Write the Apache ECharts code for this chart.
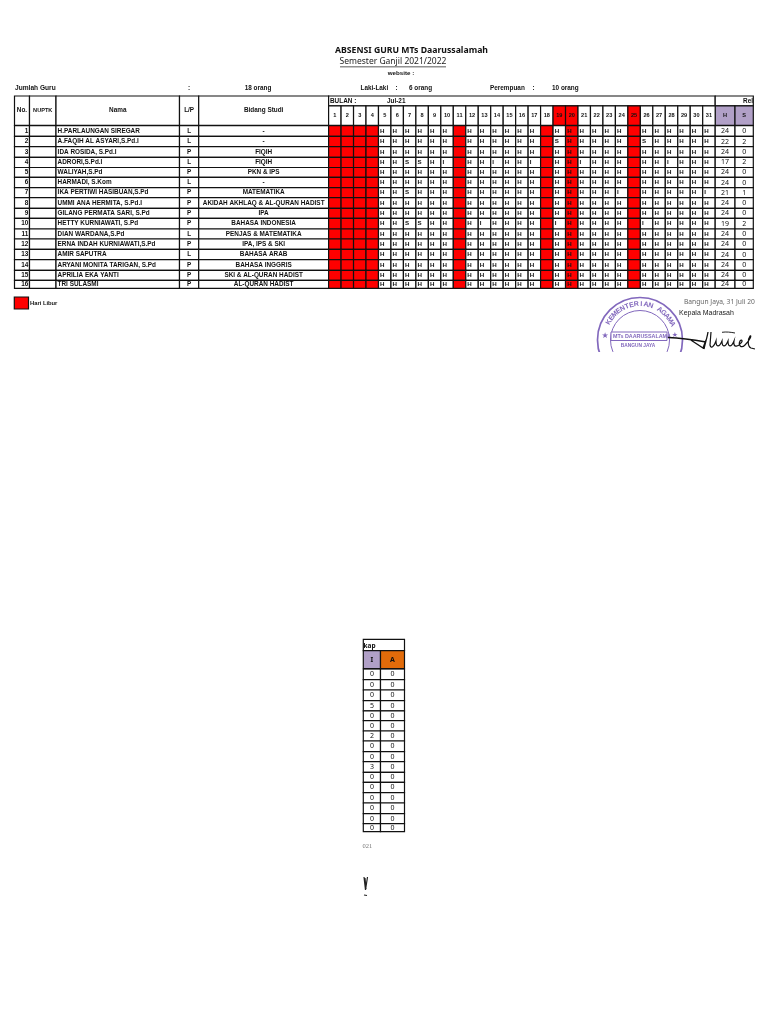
<!DOCTYPE html>
<html>
<head>
  <meta charset="UTF-8">
  <title>Absensi Guru</title>
  <script src="https://cdn.jsdelivr.net/npm/echarts@6/dist/echarts.min.js"></script>
  <style type="text/css">
  html, body { margin: 0; padding: 0; background: #ffffff; }
  #sheet { width: 768px; height: 1024px; }
  </style>
</head>
<body>
  <div id="sheet"></div>

  <script>
    // table values
    var nomor = [1, 2, 3, 4, 5, 6, 7, 8, 9, 10, 11, 12, 13, 14, 15, 16]
    var nama = ['H.PARLAUNGAN SIREGAR', 'A.FAQIH AL ASYARI,S.Pd.I', 'IDA ROSIDA, S.Pd.I', 'ADRORI,S.Pd.I',
      'WALIYAH,S.Pd', 'HARMADI, S.Kom', 'IKA PERTIWI HASIBUAN,S.Pd', 'UMMI ANA HERMITA, S.Pd.I',
      'GILANG PERMATA SARI, S.Pd', 'HETTY KURNIAWATI, S.Pd', 'DIAN WARDANA,S.Pd', 'ERNA INDAH KURNIAWATI,S.Pd',
      'AMIR SAPUTRA', 'ARYANI MONITA TARIGAN, S.Pd', 'APRILIA EKA YANTI', 'TRI SULASMI']
    var jenisKelamin = ['L', 'L', 'P', 'L', 'P', 'L', 'P', 'P', 'P', 'P', 'L', 'P', 'L', 'P', 'P', 'P']
    var bidangStudi = ['-', '-', 'FIQIH', 'FIQIH', 'PKN & IPS', '-', 'MATEMATIKA', 'AKIDAH AKHLAQ & AL-QURAN HADIST',
      'IPA', 'BAHASA INDONESIA', 'PENJAS & MATEMATIKA', 'IPA, IPS & SKI', 'BAHASA ARAB', 'BAHASA INGGRIS',
      'SKI & AL-QURAN HADIST', 'AL-QURAN HADIST']
    // one char per day of Jul-21, space = nothing written
    var absensi = [
      '    HHHHHH HHHHHH HHHHHH HHHHHH',
      '    HHHHHH HHHHHH SHHHHH SHHHHH',
      '    HHHHHH HHHHHH HHHHHH HHHHHH',
      '    HHSSHI HHIHHI HHIHHH HHIHHH',
      '    HHHHHH HHHHHH HHHHHH HHHHHH',
      '    HHHHHH HHHHHH HHHHHH HHHHHH',
      '    HHSHHH HHHHHH HHHHHI HHHHHI',
      '    HHHHHH HHHHHH HHHHHH HHHHHH',
      '    HHHHHH HHHHHH HHHHHH HHHHHH',
      '    HHSSHH HIHHHH IHHHHH IHHHHH',
      '    HHHHHH HHHHHH HHHHHH HHHHHH',
      '    HHHHHH HHHHHH HHHHHH HHHHHH',
      '    HHHHHH HHHHHH HHHHHH HHHHHH',
      '    HHHHHH HHHHHH HHHHHH HHHHHH',
      '    HHHHHH HHHHHH HHHHHH HHHHHH',
      '    HHHHHH HHHHHH HHHHHH HHHHHH'
    ]
    var rekapH = [24, 22, 24, 17, 24, 24, 21, 24, 24, 19, 24, 24, 24, 24, 24, 24]
    var rekapS = [0, 2, 0, 2, 0, 0, 1, 0, 0, 2, 0, 0, 0, 0, 0, 0]
    var rekapI = [0, 0, 0, 5, 0, 0, 2, 0, 0, 3, 0, 0, 0, 0, 0, 0]
    var rekapA = [0, 0, 0, 0, 0, 0, 0, 0, 0, 0, 0, 0, 0, 0, 0, 0]
    var hariLibur = [1, 2, 3, 4, 11, 18, 20, 25]
    var headerMerah = [19, 20, 25]

    // layout of the sheet, in page units
    var kolomKiri = [14.5, 29.5, 56, 179.5, 198.7, 328.6]
    var kolomHari = []
    for (var d = 0; d <= 31; d++) kolomHari.push(328.6 + d * 12.47)
    var kolomRekap = [715.2, 735, 753.3]
    var kolomHal2 = [363.3, 380.5, 404.5]
    var barisAtas = [96, 105.8, 125.3]
    var baris = [125.7, 136.4, 146.7, 157.3, 167.5, 177.3, 187.7, 197.7, 208.3, 218.3, 229, 239, 249.3, 259.7, 270.3, 280.3, 288.3]
    var geser = 543.3 // page 2 table sits lower by this much

    var merah = '#ff0000', ungu = '#b1a0c7', oranye = '#e26b0a', garis = '#111111'
    var fontKecil = 'bold 6.4px "Liberation Sans"'
    var sel = []
    var teks = []

    function addSel(x0, x1, y0, y1, label, opt) {
      sel.push(Object.assign({x0: x0, x1: x1, y0: y0, y1: y1, label: label}, opt || {}))
    }
    function addTeks(x, y, label, font, align, color) {
      teks.push({x: x, y: y, label: label, font: font, align: align || 'left', color: color || '#111'})
    }

    // left header
    var judulKiri = ['No.', 'NUPTK', 'Nama', 'L/P', 'Bidang Studi']
    judulKiri.forEach(function (t, i) {
      addSel(kolomKiri[i], kolomKiri[i + 1], barisAtas[0], barisAtas[2], t, {font: i == 1 ? 'bold 5.6px "Liberation Sans"' : fontKecil})
    })
    // month row
    addSel(kolomHari[0], kolomRekap[0], barisAtas[0], barisAtas[1], '', {})
    addTeks(330, 101, 'BULAN :', fontKecil)
    addTeks(387, 101.5, 'Jul-21', fontKecil)
    // recap header
    addSel(kolomRekap[0], kolomRekap[2], barisAtas[0], barisAtas[1], '', {})
    addTeks(753, 101.5, 'Rel', fontKecil, 'right')
    addSel(kolomRekap[0], kolomRekap[1], barisAtas[1], barisAtas[2], 'H', {fill: ungu, bold: true})
    addSel(kolomRekap[1], kolomRekap[2], barisAtas[1], barisAtas[2], 'S', {fill: ungu, bold: true})

    for (var h = 1; h <= 31; h++) {
      addSel(kolomHari[h - 1], kolomHari[h], barisAtas[1], barisAtas[2], String(h),
        {bold: true, fill: headerMerah.indexOf(h) >= 0 ? merah : '#fff'})
    }

    nama.forEach(function (n, r) {
      var y0 = baris[r], y1 = baris[r + 1]
      addSel(kolomKiri[0], kolomKiri[1], y0, y1, String(nomor[r]), {align: 'right', font: fontKecil})
      addSel(kolomKiri[1], kolomKiri[2], y0, y1, '', {})
      addSel(kolomKiri[2], kolomKiri[3], y0, y1, n, {align: 'left', font: fontKecil})
      addSel(kolomKiri[3], kolomKiri[4], y0, y1, jenisKelamin[r], {font: fontKecil})
      addSel(kolomKiri[4], kolomKiri[5], y0, y1, bidangStudi[r], {font: fontKecil})
      for (var h = 1; h <= 31; h++) {
        var isi = absensi[r].charAt(h - 1).trim()
        addSel(kolomHari[h - 1], kolomHari[h], y0, y1, isi,
          {align: 'left', font: 'bold 6.2px "Liberation Sans"', fill: hariLibur.indexOf(h) >= 0 ? merah : '#fff'})
      }
      addSel(kolomRekap[0], kolomRekap[1], y0, y1, String(rekapH[r]), {angka: true})
      addSel(kolomRekap[1], kolomRekap[2], y0, y1, String(rekapS[r]), {angka: true})
      // same rows, second page of the sheet
      addSel(kolomHal2[0], kolomHal2[1], y0 + geser, y1 + geser, String(rekapI[r]), {angka: true})
      addSel(kolomHal2[1], kolomHal2[2], y0 + geser, y1 + geser, String(rekapA[r]), {angka: true})
    })

    addSel(kolomHal2[0], kolomHal2[2], barisAtas[0] + geser, barisAtas[1] + geser + 1.5, '', {})
    addTeks(363.5, 646, 'kap', 'bold 6.5px "Noto Sans"')
    addSel(kolomHal2[0], kolomHal2[1], barisAtas[1] + geser + 1.5, barisAtas[2] + geser, 'I', {fill: ungu, bold: true, angka: true})
    addSel(kolomHal2[1], kolomHal2[2], barisAtas[1] + geser + 1.5, barisAtas[2] + geser, 'A', {fill: oranye, bold: true, angka: true})

    // legend box
    addSel(14.3, 28.5, 297, 309, '', {fill: merah})

    // loose text around the table
    addTeks(411.5, 51, 'ABSENSI GURU MTs Daarussalamah', 'bold 8.7px "Noto Sans"', 'center')
    addTeks(393, 61.5, 'Semester Ganjil 2021/2022', '8.5px "Noto Sans"', 'center', '#222')
    addTeks(401, 73, 'website :', 'bold 6.2px "Liberation Sans"', 'center')
    addTeks(15, 88, 'Jumlah Guru', 'bold 6.6px "Liberation Sans"')
    addTeks(189, 88, ':', fontKecil, 'center')
    addTeks(258, 88, '18 orang', fontKecil, 'center')
    addTeks(360.5, 88, 'Laki-Laki', fontKecil)
    addTeks(396.5, 88, ':', fontKecil, 'center')
    addTeks(409, 88, '6 orang', fontKecil)
    addTeks(490, 88, 'Perempuan', fontKecil)
    addTeks(533.5, 88, ':', fontKecil, 'center')
    addTeks(552, 88, '10 orang', fontKecil)
    addTeks(30, 303.5, 'Hari Libur', 'bold 5.8px "Liberation Sans"')
    addTeks(684, 302.5, 'Bangun Jaya, 31 Juli 20', '6.7px "Noto Sans"', 'left', '#666')
    addTeks(679, 313.5, 'Kepala Madrasah', '7px "Liberation Sans"', 'left', '#222')
    addTeks(362.5, 846, '021', '6.5px "Liberation Serif"', 'left', '#777')

    function gambarSel(params, api) {
      var s = sel[params.dataIndex]
      var a = api.coord([api.value(0), api.value(2)])
      var b = api.coord([api.value(1), api.value(3)])
      var kids = [{
        type: 'rect',
        shape: {x: a[0], y: a[1], width: b[0] - a[0], height: b[1] - a[1]},
        style: {fill: s.fill || '#fff', stroke: garis, lineWidth: 1.2}
      }]
      if (s.label) {
        var align = s.align || 'center'
        var tx = align === 'left' ? a[0] + 1.6 : align === 'right' ? b[0] - 1.2 : (a[0] + b[0]) / 2
        var font = s.font || (s.angka ? (s.bold ? 'bold ' : '') + '7px "Noto Sans"' : 'bold 5.6px "Liberation Sans"')
        kids.push({
          type: 'text',
          style: {x: tx, y: (a[1] + b[1]) / 2, text: s.label, align: align, verticalAlign: 'middle', fill: '#111', font: font}
        })
      }
      return {type: 'group', children: kids}
    }

    function gambarTeks(params, api) {
      var t = teks[params.dataIndex]
      var p = api.coord([api.value(0), api.value(1)])
      return {
        type: 'text',
        style: {x: p[0], y: p[1], text: t.label, align: t.align, verticalAlign: 'middle', fill: t.color, font: t.font}
      }
    }

    // stamp and signature, not data. Letters set one by one round the ring
    var unguStempel = '#8268bd'
    var stempel = [
      {type: 'circle', shape: {cx: 640, cy: 340, r: 42.5}, style: {fill: 'none', stroke: unguStempel, lineWidth: 1.7}},
      {type: 'circle', shape: {cx: 640, cy: 340, r: 29.5}, style: {fill: 'none', stroke: unguStempel, lineWidth: 1}},
      {type: 'rect', shape: {x: 611, y: 332, width: 56, height: 8.5}, style: {fill: '#fff', stroke: unguStempel, lineWidth: 1}},
      {type: 'text', style: {x: 613, y: 336.5, text: 'MTs DAARUSSALAMA', font: 'bold 5.4px "Liberation Sans"', fill: unguStempel, verticalAlign: 'middle'}},
      {type: 'text', style: {x: 638, y: 345.5, text: 'BANGUN JAYA', font: 'bold 4.8px "Liberation Sans"', fill: unguStempel, align: 'center', verticalAlign: 'middle'}},
      {type: 'text', style: {x: 605, y: 335.5, text: '★', font: '8px "DejaVu Sans"', fill: unguStempel, align: 'center', verticalAlign: 'middle'}},
      {type: 'text', style: {x: 675, y: 335, text: '★', font: '7px "DejaVu Sans"', fill: unguStempel, align: 'center', verticalAlign: 'middle'}}
    ]
    var ring = 'KEMENTERIAN AGAMA'
    for (var i = 0; i < ring.length; i++) {
      var sudut = (-60 + i * 7.75) * Math.PI / 180
      stempel.push({
        type: 'text',
        x: 640 + 36 * Math.sin(sudut),
        y: 340 - 36 * Math.cos(sudut),
        rotation: -sudut,
        style: {x: 0, y: 0, text: ring.charAt(i), font: 'bold 7px "Liberation Sans"', fill: unguStempel, align: 'center', verticalAlign: 'middle'}
      })
    }
    var tandaTangan = [
      {type: 'path', shape: {pathData: 'M668 337.5 C682 338 695 340 706 342 M690 339.5 L703 348 L706 340 M708 332 C707 338 705 344 704 349'}, style: {fill: 'none', stroke: '#111', lineWidth: 1.3}},
      {type: 'path', shape: {pathData: 'M722 332.3 C726 331.6 731 332.2 735 333'}, style: {fill: 'none', stroke: '#222', lineWidth: 1}},
      {type: 'path', shape: {pathData: 'M711 332 L710 345 C711 349 714 347 716 341 C716 347 719 348 722 341 C722 347 725 348 728 341 C728 347 731 348 734 341 C733 347 737 348 741 343 C743 341 742 339 740 341 C738 345 741 349 745 345 C750 340 752 335 750 336 C747 340 748 347 751 348 L755 349'}, style: {fill: 'none', stroke: '#111', lineWidth: 1.2}},
      // cut at the page edge
      {type: 'rect', shape: {x: 590, y: 352, width: 178, height: 34}, style: {fill: '#fff'}},
      {type: 'rect', shape: {x: 755, y: 296, width: 13, height: 64}, style: {fill: '#fff'}},
      // scrap of the signature on page 2
      {type: 'path', shape: {pathData: 'M364 877 L365.5 890 M367.5 877 L365.5 890 M365 878 L366 889 M364 895 L367 895.5'}, style: {fill: 'none', stroke: '#222', lineWidth: 1.2}},
      // underline of the semester line
      {type: 'rect', shape: {x: 340, y: 66.4, width: 106, height: 0.8}, style: {fill: '#222'}}
    ]

    var chart = echarts.init(document.getElementById('sheet'), null, {renderer: 'canvas'})
    chart.setOption({
      animation: false,
      backgroundColor: '#ffffff',
      grid: {left: 0, right: 0, top: 0, bottom: 0},
      xAxis: {type: 'value', min: 0, max: 768, show: false},
      yAxis: {type: 'value', min: 0, max: 1024, inverse: true, show: false},
      series: [
        {
          type: 'custom', silent: true, renderItem: gambarSel, clip: false,
          encode: {x: [0, 1], y: [2, 3]},
          data: sel.map(function (s) { return [s.x0, s.x1, s.y0, s.y1] })
        },
        {
          type: 'custom', silent: true, renderItem: gambarTeks, clip: false,
          encode: {x: 0, y: 1},
          data: teks.map(function (t) { return [t.x, t.y] })
        },
        {
          type: 'custom', silent: true, clip: false, data: [[0, 0]],
          renderItem: function () {
            return {type: 'group', children: stempel.concat(tandaTangan)}
          }
        }
      ]
    })
  </script>
</body>
</html>
